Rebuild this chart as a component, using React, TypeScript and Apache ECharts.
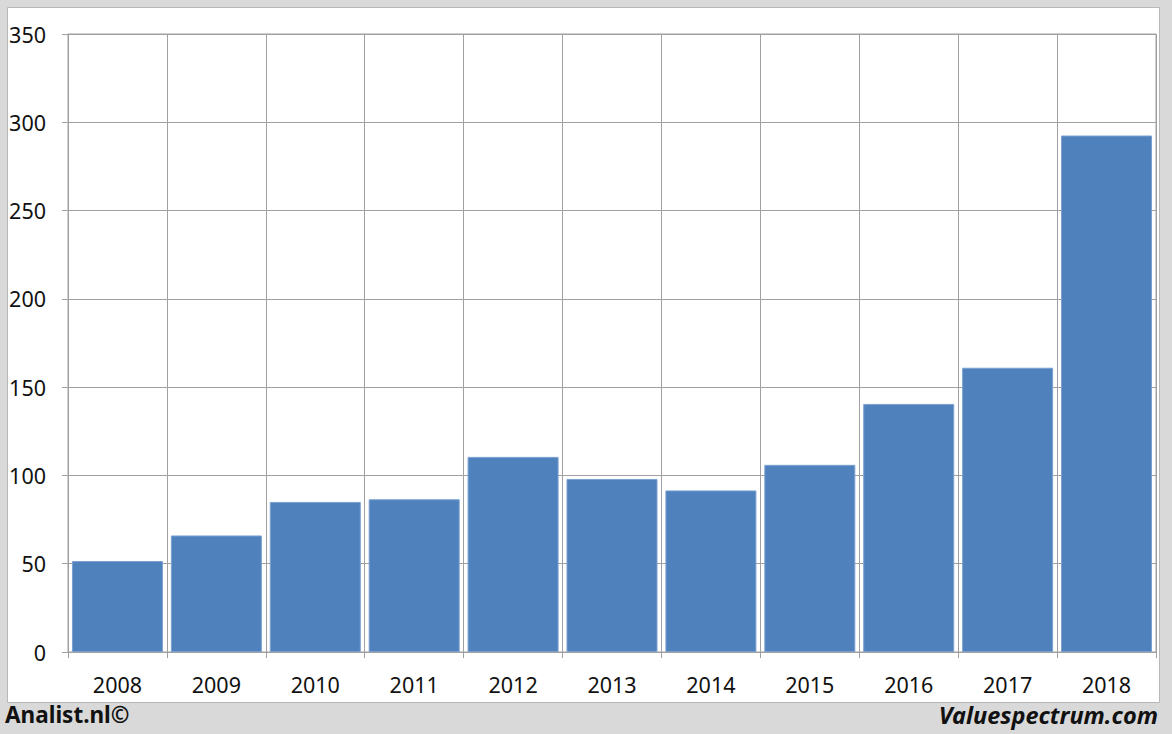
import React, { useEffect, useRef } from "react";
import * as echarts from "echarts";

const categories = ["2008", "2009", "2010", "2011", "2012", "2013", "2014", "2015", "2016", "2017", "2018"];
const values = [51.5, 66, 85, 86.5, 110.5, 98, 91.5, 106, 140.5, 161, 292.5];
const yMin = 0;
const yMax = 350;
const yInterval = 50;

export default function App() {
  const ref = useRef<HTMLDivElement>(null);
  useEffect(() => {
    if (!ref.current) return;
    const chart = echarts.init(ref.current, null, { renderer: "svg" });
    const font = "'Noto Sans', 'Open Sans', sans-serif";
    chart.setOption({
      animation: false,
      backgroundColor: "#d9d9d9",
      graphic: [
        {
          type: "rect",
          shape: { x: 7.5, y: 7.5, width: 1152, height: 695 },
          style: { fill: "#ffffff", stroke: "#b8b8b8", lineWidth: 1 },
          z: -10,
          silent: true,
        },
        {
          type: "text",
          left: 5,
          top: 703,
          style: { text: "Analist.nl©", font: `bold 22.5px ${font}`, fill: "#111111" },
        },
        {
          type: "text",
          right: 14,
          top: 703,
          style: { text: "Valuespectrum.com", font: `italic bold 23.5px ${font}`, fill: "#111111" },
        },
      ],
      grid: {
        left: 68,
        right: 16,
        top: 34,
        bottom: 82,
        show: true,
        borderColor: "#a0a0a0",
        borderWidth: 1,
        backgroundColor: "transparent",
      },
      xAxis: {
        type: "category",
        data: categories,
        axisLine: { show: true, lineStyle: { color: "#a0a0a0", width: 1 } },
        axisTick: { show: true, length: 6, lineStyle: { color: "#a0a0a0" } },
        splitLine: { show: true, lineStyle: { color: "#a0a0a0", width: 1 } },
        axisLabel: { color: "#111111", fontSize: 21.5, fontFamily: font, margin: 21 },
      },
      yAxis: {
        type: "value",
        min: yMin,
        max: yMax,
        interval: yInterval,
        axisLine: { show: true, lineStyle: { color: "#a0a0a0", width: 1 } },
        axisTick: { show: true, length: 6, lineStyle: { color: "#a0a0a0" } },
        splitLine: { show: true, lineStyle: { color: "#a0a0a0", width: 1 } },
        axisLabel: { color: "#111111", fontSize: 21.5, fontFamily: font, margin: 22 },
      },
      series: [
        {
          type: "bar",
          data: values,
          barCategoryGap: "8%",
          itemStyle: { color: "#4f81bd", borderColor: "#7aa0d0", borderWidth: 1 },
        },
      ],
    });
    return () => chart.dispose();
  }, []);
  return (
    <div
      ref={ref}
      style={{ position: "fixed", left: 0, top: 0, width: 1172, height: 734 }}
    />
  );
}
